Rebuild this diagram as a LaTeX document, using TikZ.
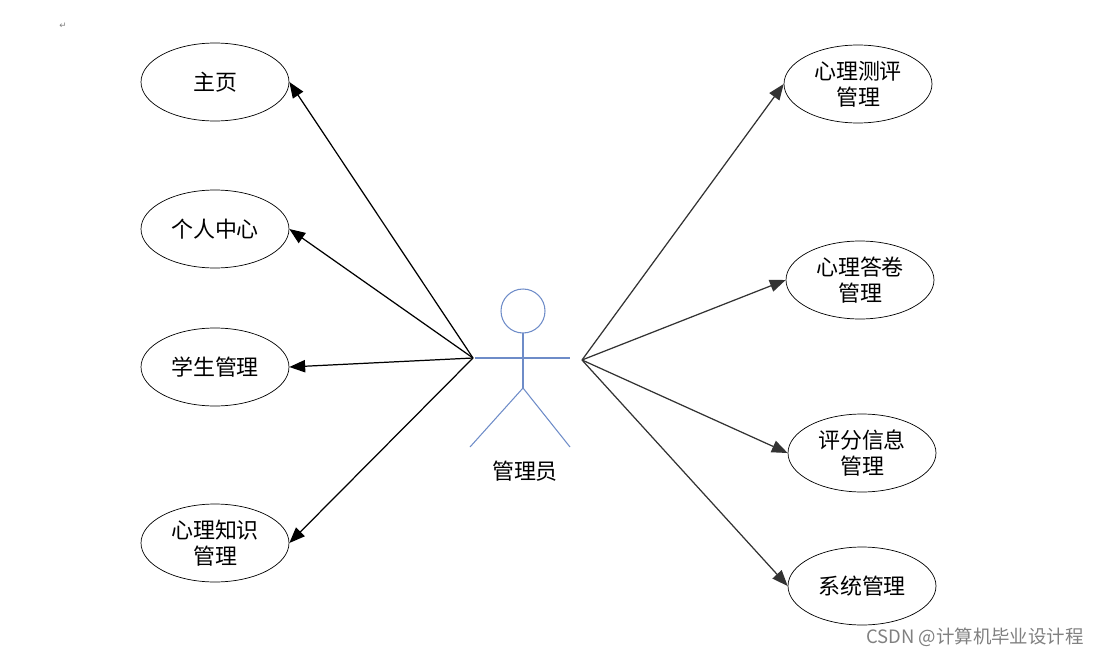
\documentclass[tikz,border=0pt]{standalone}
\usepackage{fontspec}
\newfontfamily\cjk{Noto Sans CJK SC}
\newfontfamily\dejavu{DejaVu Sans}
\usetikzlibrary{arrows.meta,shapes.geometric}
\definecolor{actorblue}{RGB}{110,140,200}
\tikzset{
  usecase/.style={draw, ellipse, minimum width=2.96cm, minimum height=1.56cm, align=center, font=\cjk\fontsize{12.5}{15}\selectfont, inner sep=0pt},
  actorline/.style={draw=actorblue, line width=0.6pt},
  assoc/.style={-{Triangle[length=9pt,width=7pt]}, line width=0.7pt},
  assocr/.style={-{Triangle[length=9pt,width=7pt]}, line width=0.7pt, draw=black!80, fill=black!80}
}
\begin{document}
\begin{tikzpicture}[x=0.02cm,y=-0.02cm]
  \useasboundingbox (0,0) rectangle (1106,656);
  % Usecases links
  \node[usecase] (home) at (215,82) {主页};
  \node[usecase] (center) at (215,229) {个人中心};
  \node[usecase] (student) at (215,367) {学生管理};
  \node[usecase] (knowledge) at (215,543) {心理知识\\管理};
  % Usecases rechts
  \node[usecase] (test) at (858,84) {心理测评\\管理};
  \node[usecase] (paper) at (860,280) {心理答卷\\管理};
  \node[usecase] (score) at (862,453) {评分信息\\管理};
  \node[usecase] (system) at (862,586) {系统管理};

  % Akteur
  \draw[actorline] (523,311) circle (22);
  \coordinate (neck) at (523,333);
  \coordinate (hip) at (523,388);
  \coordinate (armL) at (475,358);
  \coordinate (armR) at (570,358);
  \coordinate (footL) at (470,447);
  \coordinate (footR) at (570,447);
  \draw[actorline] (armL) -- (armR);
  \draw[actorline] (neck) -- (hip);
  \draw[actorline] (footL) -- (hip) -- (footR);
  \node[font=\cjk\fontsize{12.5}{15}\selectfont] (admin) at (525,471) {管理员};

  % Verbindungen
  \coordinate (srcL) at (473,358);
  \coordinate (srcR) at (582,360);
  \draw[assoc] (srcL) -- (home.east);
  \draw[assoc] (srcL) -- (center.east);
  \draw[assoc] (srcL) -- (student.east);
  \draw[assoc] (srcL) -- (knowledge.east);
  \draw[assocr] (srcR) -- (test.west);
  \draw[assocr] (srcR) -- (paper.west);
  \draw[assocr] (srcR) -- (score.west);
  \draw[assocr] (srcR) -- (system.west);

  % Sonstiges
  \node[font=\dejavu\fontsize{5}{6}\selectfont, text=gray] (mark) at (63,26) {↵};
  \node[font=\cjk\fontsize{10.5}{12}\selectfont, text=gray] (wm) at (975,637) {CSDN @计算机毕业设计程};
\end{tikzpicture}
\end{document}
